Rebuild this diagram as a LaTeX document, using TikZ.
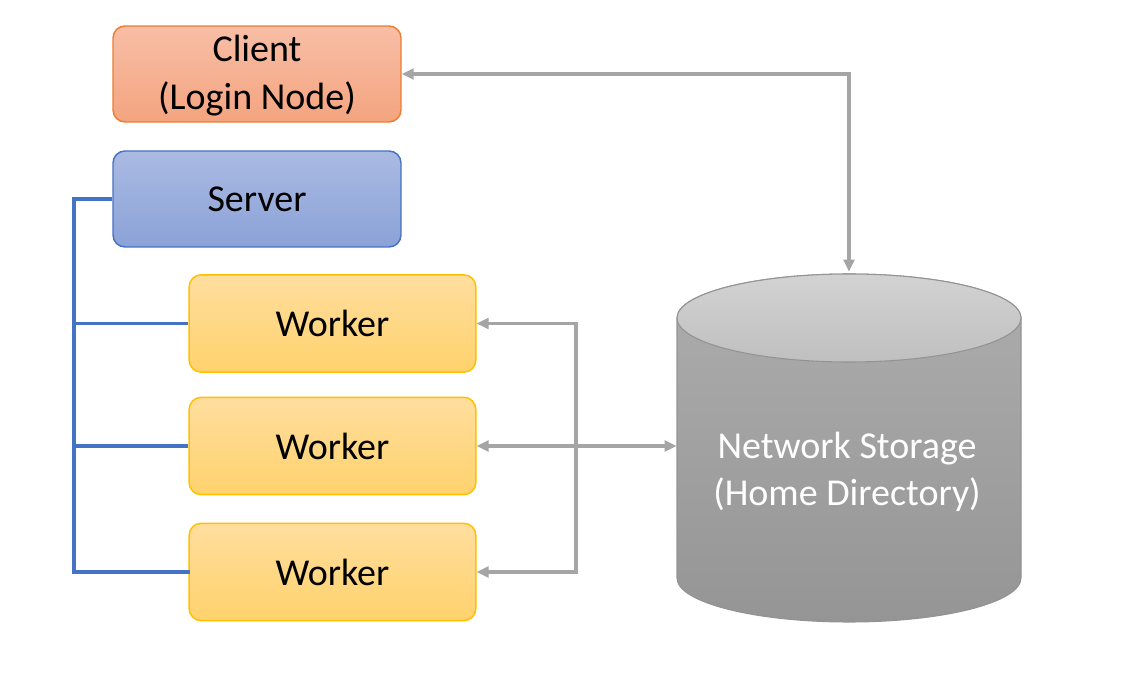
\documentclass[tikz,border=0pt]{standalone}
\usepackage{fontspec}
\setmainfont{Carlito}
\usetikzlibrary{arrows.meta}
\definecolor{cltop}{HTML}{F8BEA6}
\definecolor{clbot}{HTML}{F4A47F}
\definecolor{clline}{HTML}{ED7D31}
\definecolor{svtop}{HTML}{AABAE2}
\definecolor{svbot}{HTML}{8BA2D8}
\definecolor{svline}{HTML}{4472C4}
\definecolor{wktop}{HTML}{FFDE9E}
\definecolor{wkbot}{HTML}{FFD26C}
\definecolor{wkline}{HTML}{FFC000}
\definecolor{arrgray}{HTML}{A5A5A5}
\definecolor{cyltop}{HTML}{D0D0D0}
\definecolor{cylbtop}{HTML}{ADADAD}
\definecolor{cylbbot}{HTML}{959595}
\definecolor{cylline}{HTML}{939393}
\tikzset{
  box/.style={rectangle, rounded corners=9pt, line width=1.1pt, inner sep=0pt,
    align=center, font=\fontsize{28.5}{35.5}\selectfont},
  clientbox/.style={box, top color=cltop, bottom color=clbot, draw=clline,
    minimum width=216pt, minimum height=72pt},
  serverbox/.style={box, top color=svtop, bottom color=svbot, draw=svline,
    minimum width=216pt, minimum height=72pt},
  workerbox/.style={box, top color=wktop, bottom color=wkbot, draw=wkline,
    minimum width=215pt, minimum height=73pt},
  bus/.style={draw=svline, line width=2.5pt},
  garrow/.style={draw=arrgray, line width=2.3pt,
    {Triangle[length=9pt,width=8pt]}-{Triangle[length=9pt,width=8pt]}},
  cylfill/.style={draw=cylline, line width=0.8pt},
}
\begin{document}
\begin{tikzpicture}[x=0.75pt,y=-0.75pt]
\useasboundingbox (0,0) rectangle (1122,698);
% cylinder
\path[cylfill, top color=cylbtop, bottom color=cylbbot]
  (677,318) -- (677,578) arc[start angle=180,end angle=360,x radius=129pt,y radius=33pt]
  -- (1021,318) arc[start angle=0,end angle=180,x radius=129pt,y radius=33pt] -- cycle;
\path[cylfill, top color=cyltop!95!white, bottom color=cyltop!92!black]
  (849,318) ellipse[x radius=129pt, y radius=33pt];
\node[minimum width=258pt, minimum height=261pt, inner sep=0pt] (storage) at (849,446) {};
\node[align=center, text=white, font=\fontsize{28.5}{35.5}\selectfont] (storagelabel) at (847,472)
  {Network Storage\\(Home Directory)};
% boxes
\node[clientbox] (client) at (257,74) {\rule{0pt}{22pt}Client\\(Login Node)};
\node[serverbox] (server) at (257,199) {Server};
\node[workerbox] (w1) at (332.5,323.5) {Worker};
\node[workerbox] (w2) at (332.5,446) {Worker};
\node[workerbox] (w3) at (332.5,572) {Worker};
% blue bus
\coordinate (bt) at (74,199);
\draw[bus, line width=3.2pt] (server.west) -- (bt);
\draw[bus, line cap=rect] (bt) -- (w3.west -| bt) -- (w3.west);
\draw[bus] (w1.west -| bt) -- (w1.west);
\draw[bus] (w2.west -| bt) -- (w2.west);
% gray arrows
\draw[garrow] (client.east) -| (storage.north);
\coordinate (vx) at (576,0);
\draw[garrow] (w1.east) -- (w1.east -| vx) -- (w3.east -| vx) -- (w3.east);
\draw[garrow] (w2.east) -- (storage.west);
\end{tikzpicture}
\end{document}
